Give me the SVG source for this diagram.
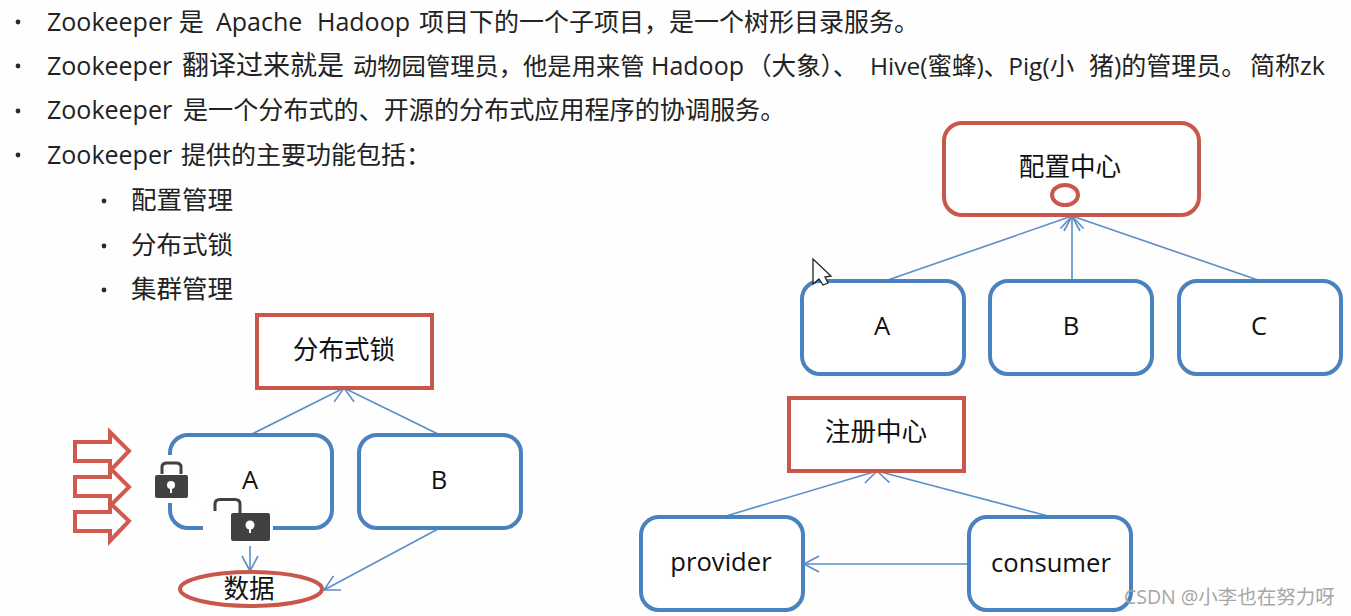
<svg xmlns="http://www.w3.org/2000/svg" width="1351" height="616" viewBox="0 0 1351 616">
<defs>
<style>
text{font-family:"Open Sans","Noto Sans CJK SC",sans-serif;fill:#222}
.t{font-size:25px}
.l{font-size:25.5px}
.n{font-size:25.6px;text-anchor:middle;fill:#111}
.b{fill:#2a2a2a}
.blue{fill:#fff;stroke:#4a82c0;stroke-width:4}
.red{fill:#fff;stroke:#c9574b;stroke-width:4}
.c{fill:none;stroke:#5b8fc6;stroke-width:1.6;marker-end:url(#a)}
.arr{fill:#fff;stroke:#cf5a4d;stroke-width:4}
.lock{fill:#414141}
.sh{fill:none;stroke:#414141;stroke-width:3}
</style>
<marker id="a" viewBox="0 0 18 18" refX="16" refY="9" markerWidth="18" markerHeight="18" markerUnits="userSpaceOnUse" orient="auto"><path d="M1 1L16 9L1 17" fill="none" stroke="#5b8fc6" stroke-width="1.6"/></marker>
</defs>
<rect width="1351" height="616" fill="#fefefe"/>
<g id="bullets">
<g class="b"><circle cx="18" cy="22" r="2.4"/><circle cx="18" cy="66" r="2.4"/><circle cx="18" cy="111" r="2.4"/><circle cx="18" cy="155" r="2.4"/><circle cx="104" cy="201" r="2.4"/><circle cx="104" cy="246" r="2.4"/><circle cx="104" cy="290" r="2.4"/></g>
<text class="t" y="31"><tspan x="47">Zookeeper 是</tspan><tspan x="216">Apache</tspan><tspan x="317">Hadoop</tspan><tspan x="419">项目下的一个子项目，是一个树形目录服务。</tspan></text>
<text class="t" y="75"><tspan x="47">Zookeeper</tspan><tspan x="182" font-size="27">翻译过来就是</tspan><tspan x="353" font-size="24.300">动物园管理员，他是用来管</tspan><tspan x="651">Hadoop</tspan><tspan x="747" font-size="24.600">（大象）、</tspan><tspan x="870" font-size="24.500">Hive(蜜蜂)、Pig(小</tspan><tspan x="1089">猪)的管理员。</tspan><tspan x="1250">简称zk</tspan></text>
<text class="t" y="119"><tspan x="47">Zookeeper</tspan><tspan x="183" font-size="25.100">是一个分布式的、开源的分布式应用程序的协调服务。</tspan></text>
<text class="t" y="164"><tspan x="47">Zookeeper</tspan><tspan x="181">提供的主要功能包括：</tspan></text>
<text class="l" x="131" y="209">配置管理</text>
<text class="l" x="131" y="254">分布式锁</text>
<text class="l" x="131" y="298">集群管理</text>
</g>
<g id="connectors">
<path class="c" d="M888 280L1072 216"/>
<path class="c" d="M1072 280V216"/>
<path class="c" d="M1258 280L1072 216"/>
<path class="c" d="M252 434L344 388"/>
<path class="c" d="M438 434L344 388"/>
<path class="c" d="M250 546V571"/>
<path class="c" d="M438 529L324 590"/>
<path class="c" d="M726 516L877 471"/>
<path class="c" d="M1048 516L877 471"/>
<path class="c" d="M969 564H804"/>
</g>
<g id="config-center"><rect class="red" x="944" y="123" width="255" height="92" rx="18"/><text class="n" x="1070" y="176">配置中心</text><ellipse cx="1065" cy="195" rx="13" ry="10" fill="#fff" stroke="#c9574b" stroke-width="4"/></g>
<g id="cfg-a"><rect class="blue" x="802" y="281" width="162" height="93" rx="18"/><text class="n" x="882" y="335">A</text></g>
<g id="cfg-b"><rect class="blue" x="990" y="281" width="162" height="93" rx="18"/><text class="n" x="1071" y="335">B</text></g>
<g id="cfg-c"><rect class="blue" x="1179" y="281" width="162" height="93" rx="18"/><text class="n" x="1259" y="335">C</text></g>
<g id="lock-center"><rect class="red" x="257" y="315" width="175" height="73"/><text class="n" x="344" y="359">分布式锁</text></g>
<g id="node-a"><rect class="blue" x="170" y="435" width="162" height="93" rx="18"/><text class="n" x="250" y="489">A</text></g>
<g id="node-b"><rect class="blue" x="359" y="435" width="162" height="93" rx="18"/><text class="n" x="439" y="489">B</text></g>
<g id="lock1"><rect x="150" y="455" width="44" height="48" fill="#fefefe"/><path class="sh" d="M162 474V467Q162 463 167 463H176Q181 463 181 467V474"/><rect class="lock" x="155" y="475" width="33" height="23" rx="2"/><circle cx="171" cy="485" r="4" fill="#fff"/><rect x="170" y="487" width="2" height="6" fill="#fff"/></g>
<g id="lock2"><rect x="203" y="510" width="70" height="26" fill="#fefefe"/><path class="sh" d="M215 511V504Q215 499.500 220 499.500H235Q240 499.500 240 504V513"/><rect class="lock" x="231" y="513" width="39" height="28" rx="2"/><circle cx="250" cy="525" r="4.500" fill="#fff"/><rect x="249" y="527" width="2" height="6" fill="#fff"/></g>
<g id="data"><ellipse cx="251" cy="589" rx="71" ry="17" fill="#fff" stroke="#c9574b" stroke-width="4"/><text class="n" x="249" y="598">数据</text></g>
<g id="arrows">
<path class="arr" d="M75 442H110V432L129 451L110 471V461H75Z"/>
<path class="arr" d="M75 477H110V468L129 487L110 506V496H75Z"/>
<path class="arr" d="M75 512H110V503L129 521L110 541V531H75Z"/>
</g>
<g id="register-center"><rect class="red" x="789" y="398" width="175" height="73"/><text class="n" x="876" y="441">注册中心</text></g>
<g id="provider"><rect class="blue" x="641" y="517" width="162" height="93" rx="18"/><text class="n" x="721" y="571">provider</text></g>
<g id="consumer"><rect class="blue" x="969" y="517" width="162" height="93" rx="18"/><text class="n" x="1051" y="572">consumer</text></g>
<path id="cursor" d="M813 259V284L819 279L823 285L828 283L825 277L831 276Z" fill="#fff" stroke="#222" stroke-width="1.3"/>
<text id="watermark" x="1124" y="604" font-size="19.500" style="fill:#a6a6a6">CSDN @小李也在努力呀</text>
</svg>
